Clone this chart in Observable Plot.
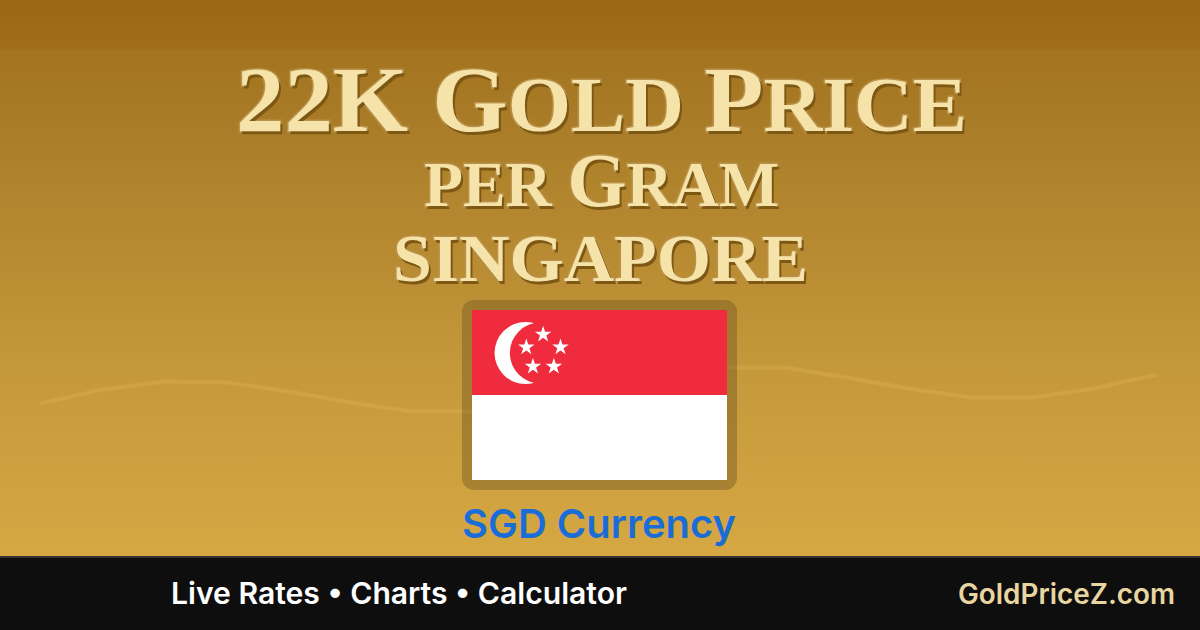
<!DOCTYPE html>
<html>
<head>
<meta charset="utf-8">
<script src="https://cdn.jsdelivr.net/npm/d3@7"></script>
<script src="https://cdn.jsdelivr.net/npm/@observablehq/plot@0.6"></script>
<style>
html,body{margin:0;padding:0;width:1200px;height:630px;overflow:hidden}
#page{position:relative;width:1200px;height:630px;overflow:hidden;
 background:linear-gradient(180deg,#9a6714 0,#a06e19 47px,#a4741f 52px,#ac7f2a 150px,#c4973a 360px,#d6a843 556px)}
#page>*{position:absolute}
.t{white-space:nowrap;line-height:1;transform-origin:0 0}
.title{font-family:"Liberation Serif",serif;font-weight:700;color:#f6e3a9;line-height:0.72;
 -webkit-text-stroke:3px #b8914a;paint-order:stroke fill;text-shadow:2px 3px 0 #7d5714}
.small{text-transform:uppercase}
.sans{font-family:Inter,sans-serif;font-weight:600}
svg{display:block;background:transparent}
</style>
</head>
<body>
<div id="page"></div>
<script>
// Background price line, one value per step
const steps = d3.range(19);
const prices = [67,81,89,88,79,68,59,59,70,85,98,103,103,93,82,73,73,82,96];

// Flag geometry in flag-fraction units
const flagColors = ["#ef2b3d","#ffffff"];
const stripeTop = [0,0.5];
const stripeBottom = [0.5,1];
const starX = [0.277,0.211,0.345,0.237,0.319];
const starY = [0.141,0.216,0.216,0.329,0.329];

// Texts
const titleLines = ["22K Gold Price","per Gram","Singapore"];
const currencyLabel = "SGD Currency";
const footerLeft = "Live Rates • Charts • Calculator";
const footerRight = "GoldPriceZ.com";

const page = document.getElementById("page");

const linePlot = Plot.plot({
  width:1200,height:630,margin:0,
  x:{domain:[0,18],range:[40,1156],axis:null},
  y:{domain:[40,120],range:[430,350],axis:null},
  marks:[Plot.line(steps,{x:d=>d,y:d=>prices[d],stroke:"#e2b655",strokeOpacity:0.32,strokeWidth:4,
    strokeLinecap:"butt",strokeLinejoin:"miter"})]
});
linePlot.style.left="0";linePlot.style.top="0";
page.appendChild(linePlot);

const flagPlot = Plot.plot({
  width:275,height:190,margin:0,
  x:{domain:[-10/255,265/255],range:[0,275],axis:null},
  y:{domain:[-10/170,180/170],range:[0,190],axis:null},
  marks:[
    Plot.rect([0],{x1:-10/255,x2:265/255,y1:-10/170,y2:180/170,fill:"#6f5521",fillOpacity:0.42,rx:12}),
    Plot.rect(flagColors,{x1:0,x2:1,y1:(d,i)=>stripeTop[i],y2:(d,i)=>stripeBottom[i],fill:d=>d}),
    Plot.dot([0],{x:0.208,y:0.25,r:31,fill:"#ffffff"}),
    Plot.dot([0],{x:0.266,y:0.25,r:30.5,fill:"#ef2b3d"}),
    Plot.dot(starX,{x:d=>d,y:(d,i)=>starY[i],r:5.2,symbol:"star",fill:"#ffffff"})
  ]
});
flagPlot.style.left="462px";flagPlot.style.top="300px";
page.appendChild(flagPlot);

function place(el,left,baseline,right){
  page.appendChild(el);
  const probe=document.createElement("span");
  probe.style.cssText="display:inline-block;width:0;height:0;vertical-align:baseline";
  el.appendChild(probe);
  const base=probe.getBoundingClientRect().top-el.getBoundingClientRect().top;
  el.removeChild(probe);
  el.style.top=(baseline-base)+"px";
  el.style.left=left+"px";
  const w=el.getBoundingClientRect().width;
  el.style.transform=`scaleX(${(right-left)/w})`;
}
function addText(text,left,baseline,size,right,color){
  const el=document.createElement("div");
  el.className="t sans";el.textContent=text;
  el.style.fontSize=size+"px";el.style.color=color;
  place(el,left,baseline,right);
}
// Small-caps title: capitals and digits at full size, lowercase as smaller capitals
function addTitle(text,left,baseline,capSize,smallSize,right){
  const el=document.createElement("div");
  el.className="t title";
  el.style.fontSize=capSize+"px";
  for(const part of text.match(/[a-z ]+|[^a-z ]+/g)){
    const s=document.createElement("span");
    s.textContent=part;
    if(/[a-z]/.test(part)){s.className="small";s.style.fontSize=smallSize+"px";}
    el.appendChild(s);
  }
  place(el,left,baseline,right);
}

const footer=document.createElement("div");
footer.style.cssText="left:0;top:556px;width:1200px;height:74px;background:#0e0e0e;border-top:2px solid #333;box-sizing:border-box";
page.appendChild(footer);

addTitle(titleLines[0],236,131,94,79,967);
addTitle(titleLines[1],424,206,76,64,779);
addTitle(titleLines[2].toLowerCase(),393,281,68,68,808);
addText(currencyLabel,462,538,40,736,"#1a6dd6");
addText(footerLeft,171,604,30,627,"#ffffff");
addText(footerRight,958,604,28,1175,"#e8d5a0");
</script>
</body>
</html>
